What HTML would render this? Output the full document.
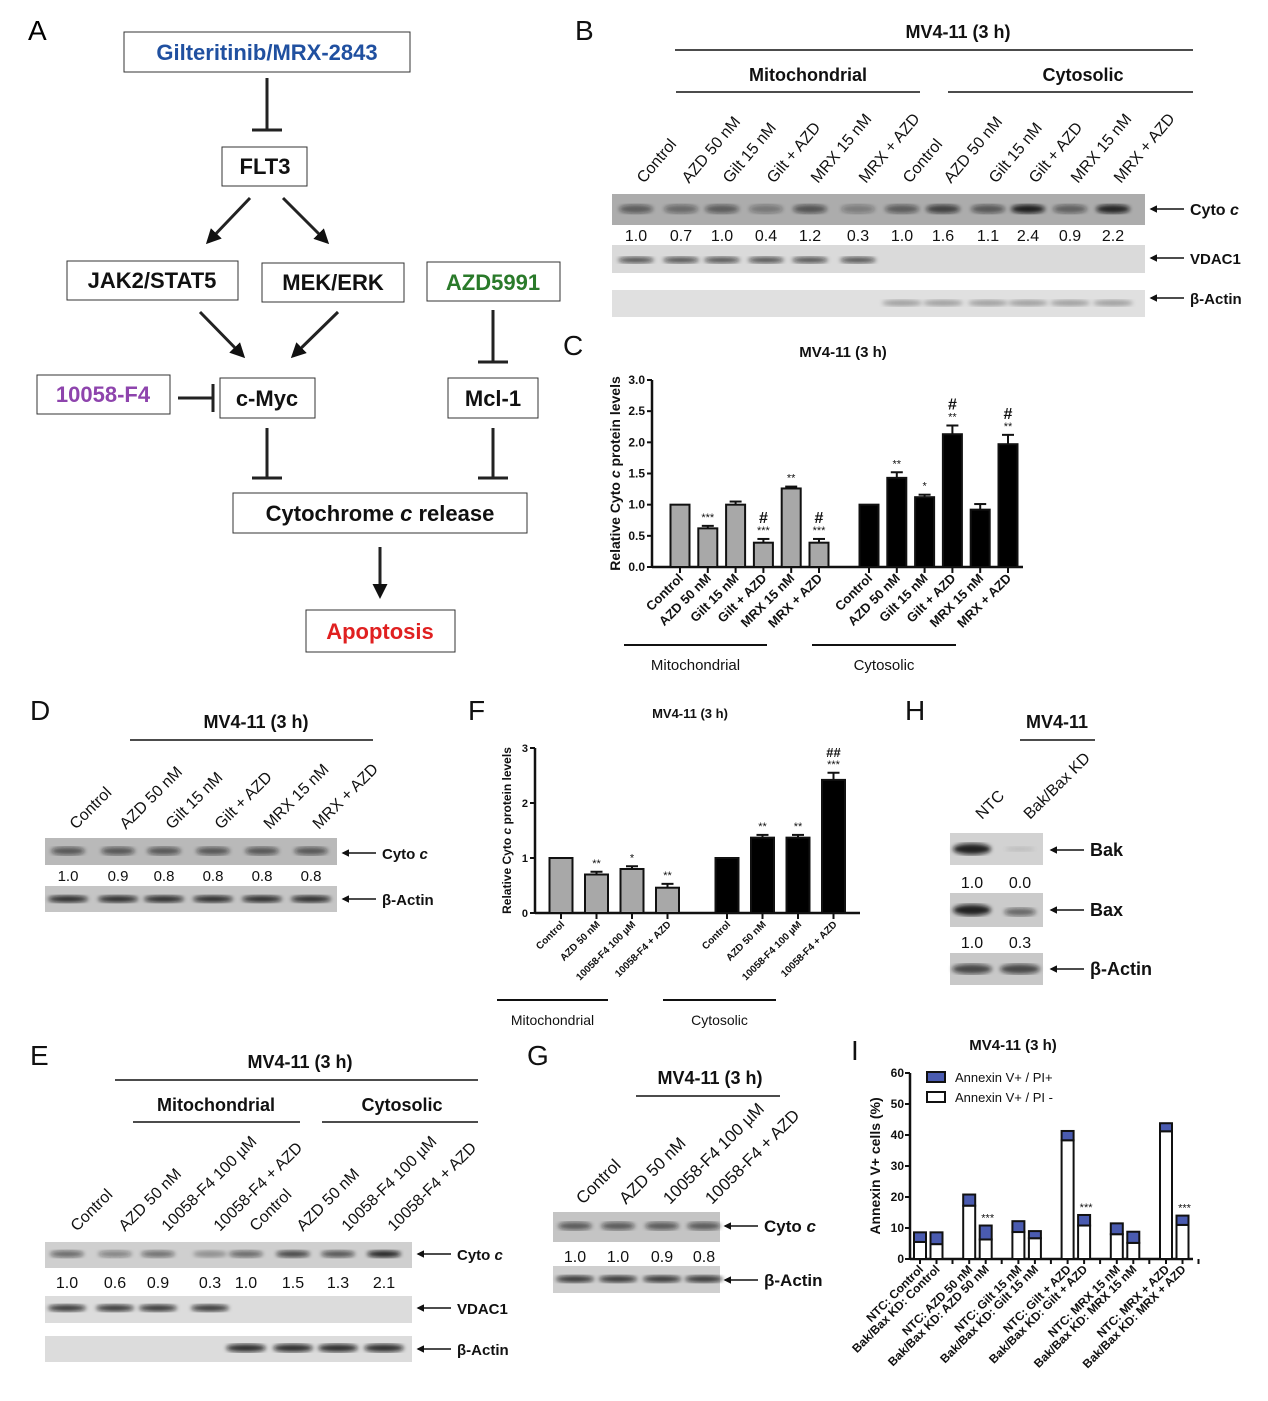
<!DOCTYPE html>
<html><head><meta charset="utf-8"><style>
body{margin:0;background:#fff}
svg{display:block;font-family:"Liberation Sans",Arial,sans-serif}
</style></head><body>
<svg id="fig" width="1268" height="1401" viewBox="0 0 1268 1401">
<defs>
<marker id="ah" viewBox="0 0 10 10" refX="8" refY="5" markerWidth="5" markerHeight="5" orient="auto"><path d="M0,0L10,5L0,10z" fill="#111"/></marker>
<filter id="blur"><feGaussianBlur stdDeviation="2"/></filter>
</defs>
<g id="panelA" font-weight="bold" font-size="22" text-anchor="middle">
<text x="28" y="40" font-size="28" font-weight="normal" text-anchor="start">A</text>
<rect x="124" y="32" width="286" height="40" fill="#fff" stroke="#333"/>
<text x="267" y="60" fill="#2050a0">Gilteritinib/MRX-2843</text>
<line x1="267" y1="78" x2="267" y2="130" stroke="#222" stroke-width="3"/><line x1="252" y1="130" x2="282" y2="130" stroke="#222" stroke-width="3"/>
<rect x="222" y="147" width="85" height="39" fill="#fff" stroke="#333"/>
<text x="265" y="174" fill="#111">FLT3</text>
<line x1="250" y1="198" x2="208" y2="242" stroke="#222" stroke-width="3" marker-end="url(#ah)"/>
<line x1="283" y1="198" x2="327" y2="242" stroke="#222" stroke-width="3" marker-end="url(#ah)"/>
<rect x="67" y="261" width="171" height="39" fill="#fff" stroke="#333"/>
<text x="152" y="288" fill="#111">JAK2/STAT5</text>
<rect x="262" y="263" width="142" height="39" fill="#fff" stroke="#333"/>
<text x="333" y="290" fill="#111">MEK/ERK</text>
<rect x="427" y="262" width="133" height="39" fill="#fff" stroke="#333"/>
<text x="493" y="290" fill="#2a7a2a">AZD5991</text>
<line x1="200" y1="312" x2="243" y2="356" stroke="#222" stroke-width="3" marker-end="url(#ah)"/>
<line x1="338" y1="312" x2="293" y2="356" stroke="#222" stroke-width="3" marker-end="url(#ah)"/>
<line x1="493" y1="310" x2="493" y2="362" stroke="#222" stroke-width="3"/><line x1="478" y1="362" x2="508" y2="362" stroke="#222" stroke-width="3"/>
<rect x="37" y="375" width="133" height="39" fill="#fff" stroke="#333"/>
<text x="103" y="402" fill="#8e44ad">10058-F4</text>
<line x1="178" y1="398" x2="213" y2="398" stroke="#222" stroke-width="3"/><line x1="213" y1="384" x2="213" y2="412" stroke="#222" stroke-width="3"/>
<rect x="220" y="378" width="95" height="40" fill="#fff" stroke="#333"/>
<text x="267" y="406" fill="#111">c-Myc</text>
<rect x="448" y="378" width="90" height="40" fill="#fff" stroke="#333"/>
<text x="493" y="406" fill="#111">Mcl-1</text>
<line x1="267" y1="428" x2="267" y2="478" stroke="#222" stroke-width="3"/><line x1="252" y1="478" x2="282" y2="478" stroke="#222" stroke-width="3"/>
<line x1="493" y1="428" x2="493" y2="478" stroke="#222" stroke-width="3"/><line x1="478" y1="478" x2="508" y2="478" stroke="#222" stroke-width="3"/>
<rect x="233" y="493" width="294" height="40" fill="#fff" stroke="#333"/>
<text x="380" y="521" fill="#111">Cytochrome <tspan font-style="italic">c</tspan> release</text>
<line x1="380" y1="547" x2="380" y2="596" stroke="#222" stroke-width="3" marker-end="url(#ah)"/>
<rect x="306" y="610" width="149" height="42" fill="#fff" stroke="#333"/>
<text x="380" y="639" fill="#e02020">Apoptosis</text>
</g>
<g id="blots"></g>
<g id="charts"></g>
</svg>
<script>
// ---------- Chart C data ----------
const cCategories = ["Control","AZD 50 nM","Gilt 15 nM","Gilt + AZD","MRX 15 nM","MRX + AZD"];
const cMito = [1.0,0.62,1.0,0.39,1.26,0.39];
const cMitoErr = [0,0.04,0.05,0.06,0.03,0.06];
const cCyto = [1.0,1.43,1.12,2.13,0.92,1.97];
const cCytoErr = [0,0.09,0.04,0.14,0.09,0.15];
const cMitoSig = ["","***","","***","**","***"];
const cMitoHash = ["","","","#","","#"];
const cCytoSig = ["","**","*","**","","**"];
const cCytoHash = ["","","","#","","#"];
const cTicks = ["0.0","0.5","1.0","1.5","2.0","2.5","3.0"];
// ---------- Chart F data ----------
const fCategories = ["Control","AZD 50 nM","10058-F4 100 \u00b5M","10058-F4 + AZD"];
const fMito = [1.0,0.70,0.80,0.46];
const fMitoErr = [0,0.05,0.05,0.07];
const fCyto = [1.0,1.37,1.37,2.42];
const fCytoErr = [0,0.05,0.05,0.13];
const fMitoSig = ["","**","*","**"];
const fCytoSig = ["","**","**","***"];
const fCytoHash = ["","","","##"];
const fTicks = ["0","1","2","3"];
// ---------- Chart I data ----------
const iCategories = ["NTC: Control","Bak/Bax KD: Control","NTC: AZD 50 nM","Bak/Bax KD: AZD 50 nM","NTC: Gilt 15 nM","Bak/Bax KD: Gilt 15 nM","NTC: Gilt + AZD","Bak/Bax KD: Gilt + AZD","NTC: MRX 15 nM","Bak/Bax KD: MRX 15 nM","NTC: MRX + AZD","Bak/Bax KD: MRX + AZD"];
const iPIneg = [5.5,4.8,17.2,6.3,8.7,6.7,38.3,10.8,8.0,5.2,41.2,11.0];
const iPIpos = [3.1,3.8,3.6,4.5,3.5,2.3,3.0,3.4,3.5,3.6,2.6,3.0];
const iSig = ["","","","***","","","","***","","","","***"];
const iTicks = ["0","10","20","30","40","50","60"];
// ---------- Blot quantification values ----------
const bValues = ["1.0","0.7","1.0","0.4","1.2","0.3","1.0","1.6","1.1","2.4","0.9","2.2"];
const dValues = ["1.0","0.9","0.8","0.8","0.8","0.8"];
const eValues = ["1.0","0.6","0.9","0.3","1.0","1.5","1.3","2.1"];
const gValues = ["1.0","1.0","0.9","0.8"];

const NS="http://www.w3.org/2000/svg";
function mk(tag,attrs,parent,txt){const e=document.createElementNS(NS,tag);for(const k in attrs)e.setAttribute(k,attrs[k]);if(txt!==undefined)e.textContent=txt;parent.appendChild(e);return e;}
const blots=document.getElementById('blots');
const charts=document.getElementById('charts');

function txt(x,y,s,size,opts,parent,name){
  const o=Object.assign({x:x,y:y,'font-size':size,fill:'#111'},opts||{});
  const t=mk('text',o,parent||blots,s);
  
  
  return t;
}
function hline(x1,x2,y,parent,w){const l=mk('line',{x1:x1,x2:x2,y1:y,y2:y,stroke:'#111','stroke-width':w||1.5},parent||blots);return l;}
function strip(x,y,w,h,fill,name){const r=mk('rect',{x:x,y:y,width:w,height:h,fill:fill},blots);return r;}
function band(cx,cy,w,h,op,name){const e=mk('ellipse',{cx:cx,cy:cy,rx:w/2,ry:h/2,fill:'#111','fill-opacity':op,filter:'url(#blur)'},blots);}
function arrowLabel(x,y,s,size,name){const l=mk('line',{x1:x+36,y1:y,x2:x+3,y2:y,stroke:'#111','stroke-width':1.5,'marker-end':'url(#ah)'},blots);
  const t=txt(x+42,y+6,'',size,{'font-weight':'bold'},blots,name+'-label');
  if(s.endsWith(' c')){t.textContent=s.slice(0,-1);mk('tspan',{'font-style':'italic'},t,'c');}else t.textContent=s;}
function laneLabels(xs,labels,yb,size,ang){labels.forEach((s,i)=>{txt(xs[i],yb,s,size,{transform:`rotate(${ang||-45} ${xs[i]} ${yb})`},blots,'lane-label');});}

// ---- Panel B ----
txt(575,40,'B',28,{},blots,'panel-label-b');
txt(958,38,'MV4-11 (3 h)',18,{'font-weight':'bold','text-anchor':'middle'},blots,'b-title');
hline(675,1193,50);
txt(808,81,'Mitochondrial',18,{'font-weight':'bold','text-anchor':'middle'},blots,'b-mito-header');hline(676,920,92);
txt(1083,81,'Cytosolic',18,{'font-weight':'bold','text-anchor':'middle'},blots,'b-cyto-header');hline(948,1193,92);
const bX=[636,681,722,766,810,858,902,943,988,1028,1070,1113];
const bLanes=["Control","AZD 50 nM","Gilt 15 nM","Gilt + AZD","MRX 15 nM","MRX + AZD","Control","AZD 50 nM","Gilt 15 nM","Gilt + AZD","MRX 15 nM","MRX + AZD"];
laneLabels(bX.map(x=>x+8),bLanes,184,16,-50);
strip(612,194,533,31,'#acacac','b-cyto-c-blot');
bValues.forEach((v,i)=>{band(bX[i],209,34,9,Math.min(0.9,0.25+parseFloat(v)*0.28),'b-band');txt(bX[i],241,v,16,{'text-anchor':'middle'},blots,'b-value');});
strip(612,245,533,28,'#dadada','b-vdac1-blot');
for(let i=0;i<6;i++)band(bX[i],260,36,6,0.7,'vdac1-band');
strip(612,290,533,27,'#e0e0e0','b-actin-blot');
for(let i=6;i<12;i++)band(bX[i],303,40,6,0.3,'actin-band');
arrowLabel(1148,209,'Cyto c',16,'b-cyto-c');arrowLabel(1148,258,'VDAC1',15,'b-vdac1');arrowLabel(1148,298,'β-Actin',15,'b-actin');

// ---- Panel D ----
txt(30,720,'D',28,{},blots,'panel-label-d');
txt(256,728,'MV4-11 (3 h)',18,{'font-weight':'bold','text-anchor':'middle'},blots,'d-title');hline(130,373,740);
const dX=[68,118,164,213,262,311];
laneLabels(dX.map(x=>x+8),["Control","AZD 50 nM","Gilt 15 nM","Gilt + AZD","MRX 15 nM","MRX + AZD"],830,16);
strip(45,838,292,27,'#b9b9b9','d-cyto-c-blot');
dX.forEach((x,i)=>{band(x,851,34,8,0.6,'d-band');});
strip(45,886,292,26,'#c5c5c5','d-actin-blot');dX.forEach(x=>band(x,899,40,7,0.85,'d-actin-band'));
dX.forEach((x,i)=>{txt(x,881,dValues[i],15,{'text-anchor':'middle'},blots,'d-value');});
arrowLabel(340,853,'Cyto c',15,'d-cyto-c');arrowLabel(340,899,'β-Actin',15,'d-actin');

// ---- Panel E ----
txt(30,1065,'E',28,{},blots,'panel-label-e');
txt(300,1068,'MV4-11 (3 h)',18,{'font-weight':'bold','text-anchor':'middle'},blots,'e-title');hline(115,478,1080);
txt(216,1111,'Mitochondrial',18,{'font-weight':'bold','text-anchor':'middle'},blots,'e-mito-header');hline(133,300,1122);
txt(402,1111,'Cytosolic',18,{'font-weight':'bold','text-anchor':'middle'},blots,'e-cyto-header');hline(322,478,1122);
const eX=[67,115,158,210,246,293,338,384];
laneLabels(eX.map(x=>x+10),["Control","AZD 50 nM","10058-F4 100 \u00b5M","10058-F4 + AZD","Control","AZD 50 nM","10058-F4 100 \u00b5M","10058-F4 + AZD"],1232,16);
strip(45,1242,367,26,'#cfcfcf','e-cyto-c-blot');
eX.forEach((x,i)=>{band(x,1254,34,7,Math.min(0.9,0.2+parseFloat(eValues[i])*0.35),'e-band');txt(x,1288,eValues[i],16,{'text-anchor':'middle'},blots,'e-value');});
strip(45,1296,367,27,'#dcdcdc','e-vdac1-blot');for(let i=0;i<4;i++)band(eX[i],1308,38,7,0.8,'e-vdac1-band');
strip(45,1336,367,26,'#dcdcdc','e-actin-blot');for(let i=4;i<8;i++)band(eX[i],1348,40,8,0.85,'e-actin-band');
arrowLabel(415,1254,'Cyto c',15,'e-cyto-c');arrowLabel(415,1308,'VDAC1',15,'e-vdac1');arrowLabel(415,1349,'β-Actin',15,'e-actin');

// ---- Panel G ----
txt(527,1065,'G',28,{},blots,'panel-label-g');
txt(710,1084,'MV4-11 (3 h)',18,{'font-weight':'bold','text-anchor':'middle'},blots,'g-title');hline(636,780,1096);
const gX=[575,618,662,704];
laneLabels(gX.map(x=>x+8),["Control","AZD 50 nM","10058-F4 100 \u00b5M","10058-F4 + AZD"],1205,17);
strip(553,1212,167,30,'#c4c4c4','g-cyto-c-blot');
gX.forEach((x,i)=>{band(x,1226,34,8,0.6,'g-band');txt(x,1262,gValues[i],16,{'text-anchor':'middle'},blots,'g-value');});
strip(553,1266,167,27,'#cfcfcf','g-actin-blot');gX.forEach(x=>band(x,1279,38,7,0.8,'g-actin-band'));
arrowLabel(722,1226,'Cyto c',17,'g-cyto-c');arrowLabel(722,1280,'β-Actin',17,'g-actin');

// ---- Panel H ----
txt(905,720,'H',28,{},blots,'panel-label-h');
txt(1057,728,'MV4-11',18,{'font-weight':'bold','text-anchor':'middle'},blots,'h-title');hline(1020,1095,740);
txt(982,820,'NTC',16,{transform:'rotate(-45 982 820)'},blots,'lane-label');
txt(1030,820,'Bak/Bax KD',16,{transform:'rotate(-45 1030 820)'},blots,'lane-label');
strip(950,833,93,32,'#d2d2d2','h-bak-blot');band(972,849,38,11,0.9,'bak-band');band(1020,849,30,5,0.1,'bak-band');
txt(972,888,'1.0',16,{'text-anchor':'middle'},blots,'h-value');txt(1020,888,'0.0',16,{'text-anchor':'middle'},blots,'h-value');
strip(950,893,93,34,'#cbcbcb','h-bax-blot');band(972,910,38,11,0.9,'bax-band');band(1020,912,32,8,0.55,'bax-band');
txt(972,948,'1.0',16,{'text-anchor':'middle'},blots,'h-value');txt(1020,948,'0.3',16,{'text-anchor':'middle'},blots,'h-value');
strip(950,953,93,32,'#c8c8c8','h-actin-blot');band(972,969,40,10,0.7,'h-actin-band');band(1020,969,40,10,0.7,'h-actin-band');
arrowLabel(1048,850,'Bak',18,'h-bak');arrowLabel(1048,910,'Bax',18,'h-bax');arrowLabel(1048,969,'β-Actin',18,'h-actin');

// ---- generic grouped bar chart ----
function barChart(cfg){
  const g=mk('g',{},charts);
  const y=v=>cfg.y0-(v/cfg.ymax)*(cfg.y0-cfg.ytop);
  txt(cfg.panelX,cfg.panelY,cfg.panel,28,{},g,'panel-label');
  txt(cfg.titleX,cfg.titleY,'MV4-11 (3 h)',cfg.titleSize,{'font-weight':'bold','text-anchor':'middle'},g,'chart-title');
  const yl=txt(0,0,'Relative Cyto ',cfg.ylSize,{'font-weight':'bold','text-anchor':'middle',transform:`translate(${cfg.ylX},${(cfg.y0+cfg.ytop)/2}) rotate(-90)`},g,'y-axis-title');
  mk('tspan',{'font-style':'italic'},yl,'c');mk('tspan',{},yl,' protein levels');
  cfg.ticks.forEach(t=>{const v=parseFloat(t);mk('line',{x1:cfg.x0-5,x2:cfg.x0,y1:y(v),y2:y(v),stroke:'#111','stroke-width':2},g);
    txt(cfg.x0-7,y(v)+4,t,cfg.tickSize,{'font-weight':'bold','text-anchor':'end'},g,'y-tick-label');});
  mk('line',{x1:cfg.x0,x2:cfg.x0,y1:cfg.ytop,y2:cfg.y0+1,stroke:'#111','stroke-width':2.5},g);
  mk('line',{x1:cfg.x0,x2:cfg.xend,y1:cfg.y0,y2:cfg.y0,stroke:'#111','stroke-width':2.5},g);
  cfg.groups.forEach(gr=>{
    gr.vals.forEach((v,i)=>{const cx=gr.start+i*cfg.step;
      if(gr.err[i]>0){mk('line',{x1:cx,x2:cx,y1:y(v),y2:y(v+gr.err[i]),stroke:'#111','stroke-width':2},g);
        mk('line',{x1:cx-6,x2:cx+6,y1:y(v+gr.err[i]),y2:y(v+gr.err[i]),stroke:'#111','stroke-width':2},g);}
      const r=mk('rect',{x:cx-cfg.bw/2,y:y(v),width:cfg.bw,height:cfg.y0-y(v),fill:gr.fill,stroke:'#111','stroke-width':2},g);
      
      
      mk('line',{x1:cx,x2:cx,y1:cfg.y0,y2:cfg.y0+6,stroke:'#111','stroke-width':2},g);
      const top=y(v+gr.err[i]);
      if(gr.sig[i])txt(cx,top-5,gr.sig[i],cfg.sigSize,{'text-anchor':'middle'},g,'significance-mark');
      if(gr.hash&&gr.hash[i])txt(cx,top-16,gr.hash[i],cfg.hashSize,{'text-anchor':'middle','font-weight':'bold'},g,'hash-mark');
      const lx=cx+4,ly=cfg.y0+12;
      txt(lx,ly,cfg.cats[i],cfg.catSize,{'font-weight':'bold','text-anchor':'end',transform:`rotate(-45 ${lx} ${ly})`},g,'x-tick-label');
    });
    hline(gr.lineX1,gr.lineX2,cfg.groupLineY,g,2);
    txt((gr.lineX1+gr.lineX2)/2,cfg.groupLineY+25,gr.label,cfg.groupSize,{'text-anchor':'middle'},g,'group-label');
  });
}
barChart({name:'chart-c',panel:'C',panelX:563,panelY:355,titleX:843,titleY:357,titleSize:15,ylX:620,ylSize:14,
  x0:652,xend:1023,y0:567,ytop:380,ymax:3,ticks:cTicks,tickSize:12,step:27.8,bw:19,cats:cCategories,catSize:13,
  sigSize:11,hashSize:16,groupLineY:645,groupSize:15,
  groups:[{key:'mito',start:680,vals:cMito,err:cMitoErr,sig:cMitoSig,hash:cMitoHash,fill:'#a8a8a8',label:'Mitochondrial',lineX1:624,lineX2:767},
          {key:'cyto',start:869,vals:cCyto,err:cCytoErr,sig:cCytoSig,hash:cCytoHash,fill:'#000',label:'Cytosolic',lineX1:812,lineX2:956}]});
barChart({name:'chart-f',panel:'F',panelX:468,panelY:720,titleX:690,titleY:718,titleSize:13,ylX:511,ylSize:12,
  x0:535,xend:860,y0:913,ytop:748,ymax:3,ticks:fTicks,tickSize:11,step:35.5,bw:23,cats:fCategories,catSize:10,
  sigSize:11,hashSize:13,groupLineY:1000,groupSize:14,
  groups:[{key:'mito',start:561,vals:fMito,err:fMitoErr,sig:fMitoSig,hash:null,fill:'#a8a8a8',label:'Mitochondrial',lineX1:497,lineX2:608},
          {key:'cyto',start:727,vals:fCyto,err:fCytoErr,sig:fCytoSig,hash:fCytoHash,fill:'#000',label:'Cytosolic',lineX1:663,lineX2:776}]});

// ---- Chart I stacked ----
(function(){
  const g=mk('g',{},charts);
  const x0=910,xend=1193,y0=1259,ytop=1073,ymax=60;
  const y=v=>y0-(v/ymax)*(y0-ytop);
  const xs=i=>920+Math.floor(i/2)*49.2+(i%2)*16.5;
  txt(851,1060,'I',28,{},g,'panel-label-i');
  txt(1013,1050,'MV4-11 (3 h)',15,{'font-weight':'bold','text-anchor':'middle'},g,'chart-title');
  txt(0,0,'Annexin V+ cells (%)',14,{'font-weight':'bold','text-anchor':'middle',transform:`translate(880,${(y0+ytop)/2}) rotate(-90)`},g,'y-axis-title');
  iTicks.forEach(t=>{const v=parseFloat(t);mk('line',{x1:x0-5,x2:x0,y1:y(v),y2:y(v),stroke:'#111','stroke-width':2},g);
    txt(x0-6,y(v)+4,t,12,{'font-weight':'bold','text-anchor':'end'},g,'y-tick-label');});
  mk('line',{x1:x0,x2:x0,y1:ytop,y2:y0+1,stroke:'#111','stroke-width':2.5},g);
  mk('line',{x1:x0,x2:xend,y1:y0,y2:y0,stroke:'#111','stroke-width':2.5},g);
  iPIneg.forEach((v,i)=>{const cx=xs(i),bw=12;
    const r1=mk('rect',{x:cx-bw/2,y:y(v),width:bw,height:y0-y(v),fill:'#fff',stroke:'#111','stroke-width':2},g);
    
    
    const r2=mk('rect',{x:cx-bw/2,y:y(v+iPIpos[i]),width:bw,height:y(v)-y(v+iPIpos[i]),fill:'#4a5bb0',stroke:'#111','stroke-width':2},g);
    
    
    mk('line',{x1:cx,x2:cx,y1:y0,y2:y0+5,stroke:'#111','stroke-width':2},g);
    if(iSig[i])txt(cx+2,y(v+iPIpos[i])-4,iSig[i],11,{'text-anchor':'middle'},g,'significance-mark');
    const lx=cx+4,ly=y0+11;
    txt(lx,ly,iCategories[i],12,{'font-weight':'bold','text-anchor':'end',transform:`rotate(-45 ${lx} ${ly})`},g,'x-tick-label');
  });
  for(let k=0;k<6;k++){const tx=xs(2*k+1)+16;mk('line',{x1:tx,x2:tx,y1:y0,y2:y0+5,stroke:'#111','stroke-width':2},g);}
  const l1=mk('rect',{x:927,y:1072,width:18,height:10,fill:'#4a5bb0',stroke:'#111','stroke-width':2},g);
  txt(955,1082,'Annexin V+ / PI+',13,{},g,'legend-entry');
  const l2=mk('rect',{x:927,y:1092,width:18,height:10,fill:'#fff',stroke:'#111','stroke-width':2},g);
  txt(955,1102,'Annexin V+ / PI -',13,{},g,'legend-entry');
})();
</script>
</body></html>
